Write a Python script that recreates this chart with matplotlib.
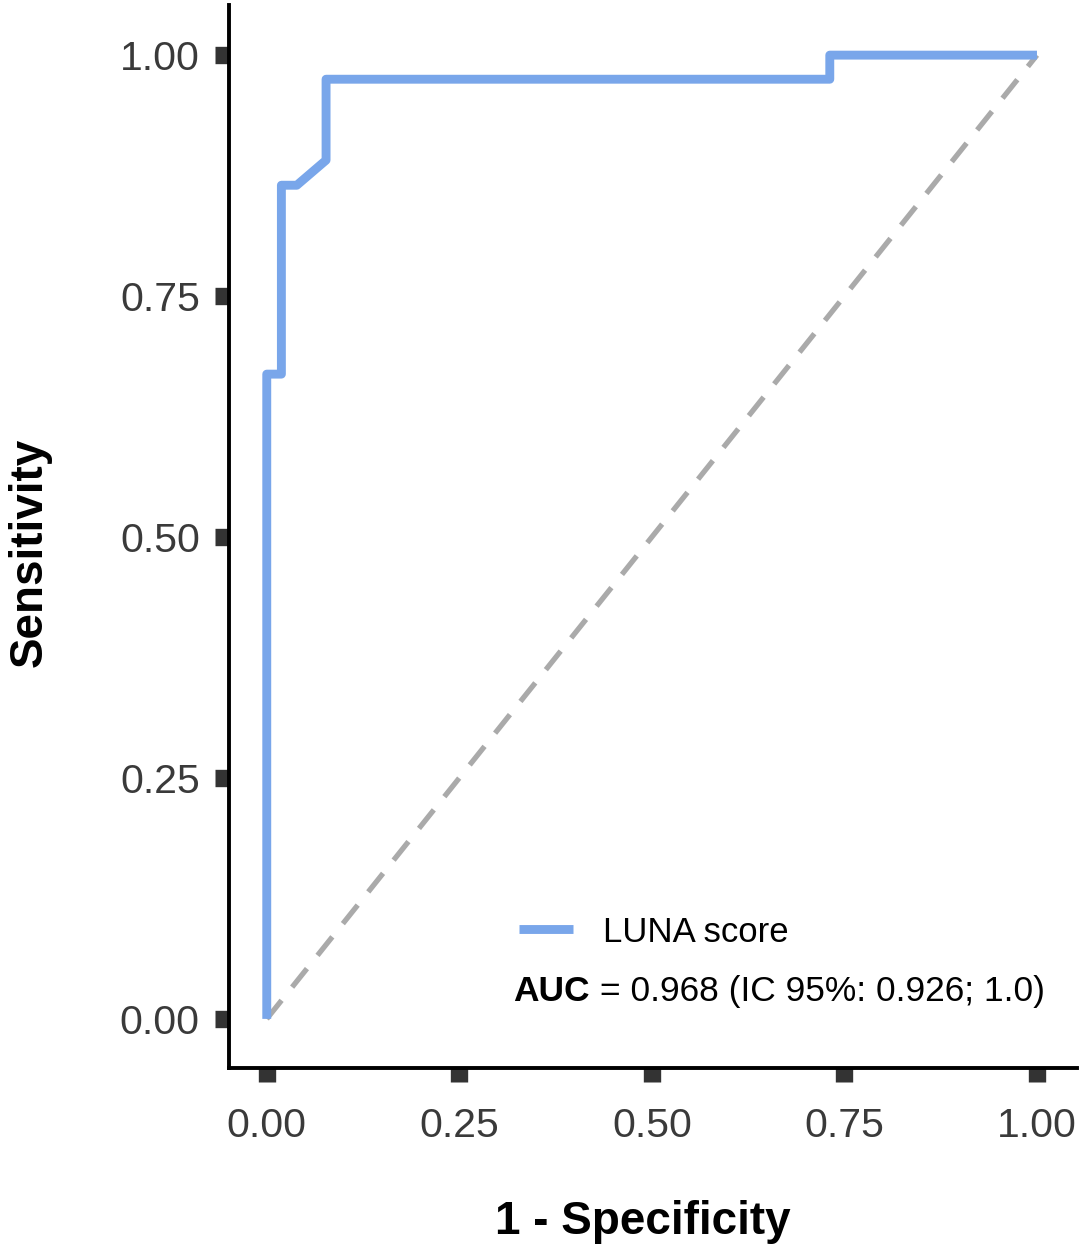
import matplotlib
matplotlib.use("Agg")
import matplotlib.pyplot as plt
import numpy as np

# ROC curve points
fpr = [0.0, 0.0, 0.019, 0.019, 0.039, 0.077, 0.077, 0.731, 0.731, 1.0]
tpr = [0.0, 0.669, 0.669, 0.865, 0.865, 0.891, 0.975, 0.975, 1.0, 1.0]
ref_line = [0.0, 1.0]
ticks = [0.0, 0.25, 0.5, 0.75, 1.0]
tick_labels = ["0.00", "0.25", "0.50", "0.75", "1.00"]
series_name = "LUNA score"
auc_rest = " = 0.968 (IC 95%: 0.926; 1.0)"

plt.rcParams['font.family'] = ['Liberation Sans', 'DejaVu Sans']

fig = plt.figure(figsize=(10.89, 12.54), dpi=100)
ax = fig.add_axes([0.2103, 0.1483, 0.7787, 0.8477])

ax.plot(ref_line, ref_line, color='#aaaaaa', lw=3.8, ls=(0, (4.5, 3.2)), zorder=2)
ax.plot(fpr, tpr, color='#79a6ea', lw=6.4, solid_joinstyle='round',
        solid_capstyle='butt', label=series_name, zorder=3)

ax.set_xlim(-0.049, 1.052)
ax.set_ylim(-0.051, 1.052)
ax.set_xticks(ticks)
ax.set_xticklabels(tick_labels)
ax.set_yticks(ticks)
ax.set_yticklabels(tick_labels)

for s in ['top', 'right']:
    ax.spines[s].set_visible(False)
for s in ['left', 'bottom']:
    ax.spines[s].set_linewidth(2.8)
    ax.spines[s].set_color('black')

ax.tick_params(axis='both', length=10, width=12.5, color='#333333',
               labelsize=29.5, labelcolor='#3a3a3a')
ax.tick_params(axis='x', pad=18)
ax.tick_params(axis='y', pad=11)

ax.set_xlabel("1 - Specificity", fontsize=33, fontweight='bold')
ax.set_ylabel("Sensitivity", fontsize=33, fontweight='bold')
ax.xaxis.set_label_coords(0.488, -0.145)
ax.yaxis.set_label_coords(-0.235, 0.485)
ax.xaxis.label.set_va('center')
ax.yaxis.label.set_va('center')

leg = ax.legend(loc='center left', bbox_to_anchor=(0.327, 0.090),
                bbox_transform=ax.transData, frameon=False, fontsize=25,
                handlelength=1.56, handletextpad=0.86, borderpad=0,
                borderaxespad=0)

t1 = ax.text(0.32, 0.028, "AUC", fontsize=25.5, fontweight='bold',
             va='center', ha='left', transform=ax.transData)
ax.annotate(auc_rest, xy=(1, 0), xycoords=t1, va='bottom', ha='left',
            fontsize=25.5)

fig.savefig("out.png", dpi=100)
